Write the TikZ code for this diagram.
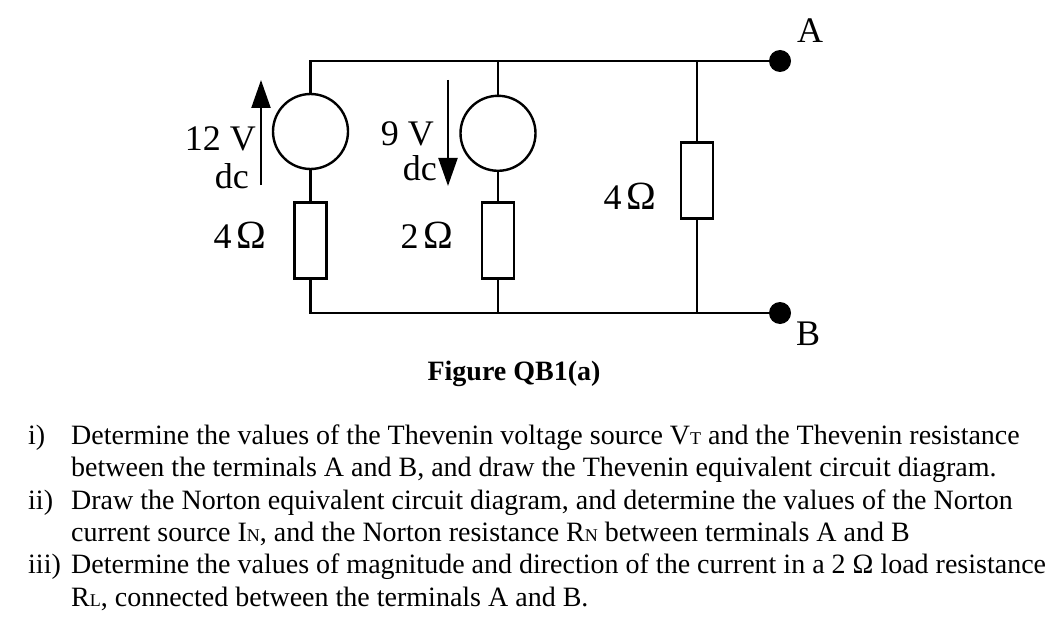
\documentclass[tikz,border=0pt]{standalone}
\usepackage{fontspec}
\setmainfont{Liberation Serif}
\usetikzlibrary{arrows.meta}
\newcommand{\low}[1]{{\fontsize{18}{18}\selectfont #1}}
\newcommand{\ohm}{\kern5pt{\fontsize{40}{40}\selectfont Ω}}
\tikzset{
    wire/.style={line width=2.2pt},
    source/.style={draw,circle,line width=2.4pt,minimum size=75pt,inner sep=0pt},
    resistor/.style={draw,rectangle,line width=2.2pt,minimum width=32pt,minimum height=76pt,inner sep=0pt},
    terminal/.style={fill,circle,minimum size=22pt,inner sep=0pt},
    volt/.style={line width=2.2pt,-{Triangle[width=19pt,length=28pt]}},
    label/.style={font=\fontsize{36}{36}\selectfont,inner sep=0pt},
    textline/.style={anchor=base west,font=\fontsize{28}{28}\selectfont,inner sep=0pt},
}
\begin{document}
\begin{tikzpicture}[>=stealth,x=1pt,y=-1pt]
    \useasboundingbox (0,0) rectangle (1060,623);
    % circuit
    \node[source] (srcone) at (310.5,131.5) {};
    \node[source] (srctwo) at (498,133.3) {};
    \node[resistor] (resone) at (310.5,240.5) {};
    \node[resistor] (restwo) at (498,240.5) {};
    \node[resistor] (resthree) at (697,180.5) {};
    \node[terminal] (termA) at (780,61) {};
    \node[terminal] (termB) at (780,313) {};
    \coordinate (topone) at (310.5,61);
    \coordinate (toptwo) at (498,61);
    \coordinate (topthree) at (697,61);
    \coordinate (botone) at (310.5,313);
    \coordinate (bottwo) at (498,313);
    \coordinate (botthree) at (697,313);
    \draw[wire] (termA) -- (topone) -- (srcone);
    \draw[wire] (termB) -- (botone) -- (resone);
    \draw[wire] (srcone) -- (resone);
    \draw[wire] (toptwo) -- (srctwo) -- (restwo) -- (bottwo);
    \draw[wire] (topthree) -- (resthree) -- (botthree);
    % voltage arrows
    \coordinate (voltonea) at (261,185);
    \coordinate (voltoneb) at (261,80);
    \coordinate (volttwoa) at (448,80);
    \coordinate (volttwob) at (448,186);
    \draw[volt] (voltonea) -- (voltoneb);
    \draw[volt] (volttwoa) -- (volttwob);
    % labels
    \node[label,anchor=base east] (lblvone) at (256,150) {12 V};
    \node[label,anchor=base east] (lbldcone) at (249,188) {dc};
    \node[label,anchor=base east] (lblvtwo) at (434,146) {9 V};
    \node[label,anchor=base east] (lbldctwo) at (437,180) {dc};
    \node[label,anchor=base] (lblone) at (240,248) {4\ohm};
    \node[label,anchor=base] (lbltwo) at (427,248) {2\ohm};
    \node[label,anchor=base] (lblthree) at (630,209) {4\ohm};
    \node[label,anchor=base] (lblA) at (810,43) {A};
    \node[label,anchor=base] (lblB) at (808,345) {B};
    \node[anchor=base,inner sep=0pt,font=\fontsize{28}{28}\selectfont\bfseries] (caption) at (514,380) {Figure QB1(a)};
    % questions
    \node[textline] (numi) at (28,444) {i)};
    \node[textline] (linea) at (71,444) {Determine the values of the Thevenin voltage source V\low{T} and the Thevenin resistance};
    \node[textline] (lineb) at (71,476) {between the terminals A and B, and draw the Thevenin equivalent circuit diagram.};
    \node[textline] (numii) at (28,509) {ii)};
    \node[textline] (linec) at (71,509) {Draw the Norton equivalent circuit diagram, and determine the values of the Norton};
    \node[textline] (lined) at (71,541) {current source I\low{N}, and the Norton resistance R\low{N} between terminals A and B};
    \node[textline] (numiii) at (28,573) {iii)};
    \node[textline] (linee) at (71,573) {Determine the values of magnitude and direction of the current in a 2 Ω load resistance};
    \node[textline] (linef) at (71,606) {R\low{L}, connected between the terminals A and B.};
\end{tikzpicture}
\end{document}
